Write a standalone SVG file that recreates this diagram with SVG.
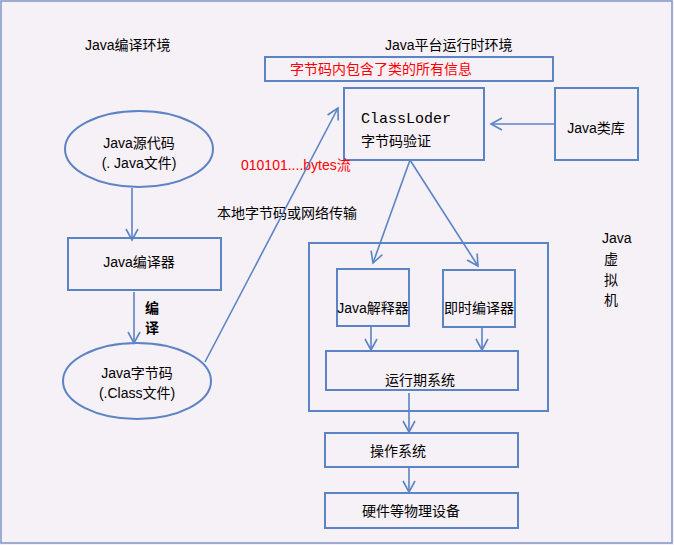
<svg xmlns="http://www.w3.org/2000/svg" width="674" height="545" viewBox="0 0 674 545">
<style>
.b{fill:none;stroke:#5b84c4;stroke-width:2}
.t{font-family:"Liberation Sans","Noto Sans CJK SC",sans-serif;font-size:14px;fill:#000}
.c{text-anchor:middle}
.r{fill:#ff0000}
.m{font-family:"Liberation Mono",monospace;font-size:15px}
.l{stroke:#5b84c4;stroke-width:1.6;fill:none;marker-end:url(#a)}
</style>
<defs><marker id="a" markerWidth="14" markerHeight="14" refX="12" refY="7" orient="auto" markerUnits="userSpaceOnUse"><polyline points="1,1 12,7 1,13" fill="none" stroke="#5b84c4" stroke-width="1.6"/></marker></defs>
<rect x="0" y="0" width="674" height="545" fill="#f6f0f7"/>
<rect x="1" y="1" width="671" height="542" fill="none" stroke="#7f95c4" stroke-width="1.5"/>
<text class="t" x="85" y="50">Java编译环境</text>
<text class="t" x="385" y="50">Java平台运行时环境</text>
<g id="info"><rect class="b" x="265" y="57" width="288" height="24"/><text class="t r" x="290" y="74">字节码内包含了类的所有信息</text></g>
<g id="classloader"><rect class="b" x="344" y="88" width="140" height="72"/><text class="t m" x="361" y="123">ClassLoder</text><text class="t" x="361" y="146" font-size="15">字节码验证</text></g>
<g id="lib"><rect class="b" x="555" y="88" width="83" height="72"/><text class="t c" x="596" y="133" font-size="13">Java类库</text></g>
<g id="src"><ellipse class="b" cx="139" cy="149" rx="74" ry="38"/><text class="t c" x="139" y="148">Java源代码</text><text class="t c" x="139" y="168">(. Java文件)</text></g>
<g id="compiler"><rect class="b" x="68" y="238" width="153" height="52"/><text class="t c" x="139" y="267">Java编译器</text></g>
<g id="bytecode"><ellipse class="b" cx="137" cy="381" rx="74" ry="38"/><text class="t c" x="137" y="378">Java字节码</text><text class="t c" x="137" y="398">(.Class文件)</text></g>
<g id="jvm"><rect class="b" x="309" y="243" width="239" height="168"/>
<text class="t" x="602" y="243">Java</text><text class="t" x="604" y="264">虚</text><text class="t" x="604" y="285">拟</text><text class="t" x="604" y="305">机</text></g>
<g id="interp"><rect class="b" x="337" y="269" width="72" height="57"/><text class="t c" x="373" y="313" font-size="13">Java解释器</text></g>
<g id="jit"><rect class="b" x="443" y="270" width="72" height="57"/><text class="t c" x="479" y="313">即时编译器</text></g>
<g id="runtime"><rect class="b" x="326" y="351" width="192" height="39"/><text class="t c" x="420" y="385">运行期系统</text></g>
<g id="os"><rect class="b" x="325" y="433" width="193" height="34"/><text class="t c" x="398" y="456">操作系统</text></g>
<g id="hw"><rect class="b" x="325" y="493" width="193" height="35"/><text class="t c" x="411" y="516">硬件等物理设备</text></g>
<g id="labels">
<text class="t r" x="241" y="170" font-size="13">010101....bytes流</text>
<text class="t" x="217" y="218" font-size="13">本地字节码或网络传输</text>
<text class="t" x="145" y="313" font-weight="bold">编</text><text class="t" x="145" y="333" font-weight="bold">译</text>
</g>
<g id="connectors">
<line class="l" x1="555" y1="124" x2="491" y2="124"/>
<line class="l" x1="132" y1="188" x2="132" y2="240"/>
<line class="l" x1="134" y1="292" x2="134" y2="343"/>
<line class="l" x1="205" y1="362" x2="338" y2="108"/>
<line class="l" x1="410" y1="160" x2="373" y2="263"/>
<line class="l" x1="410" y1="160" x2="478" y2="266"/>
<line class="l" x1="371" y1="327" x2="371" y2="350"/>
<line class="l" x1="482" y1="327" x2="482" y2="350"/>
<line class="l" x1="409" y1="393" x2="409" y2="432"/>
<line class="l" x1="409" y1="468" x2="409" y2="492"/>
</g>
</svg>
